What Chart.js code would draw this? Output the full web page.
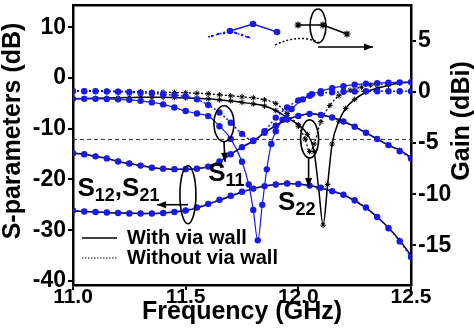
<!DOCTYPE html>
<html><head><meta charset="utf-8">
<script src="https://cdn.jsdelivr.net/npm/chart.js@4.4.1/dist/chart.umd.min.js"></script>
<style>html,body{margin:0;padding:0;background:#fff}#wrap{width:474px;height:334px;position:relative}</style>
</head><body><div id="wrap"><canvas id="c" width="474" height="334"></canvas></div>
<script>
// ---- data ----
const freq = [11.00,11.05,11.10,11.15,11.20,11.25,11.30,11.35,11.40,11.45,11.50,11.55,11.60,11.65,11.70,11.75,11.80,11.85,11.90,11.95,12.00,12.05,12.10,12.15,12.20,12.25,12.30,12.35,12.40,12.45,12.50];
const s21With    = [-26.2,-26.3,-26.4,-26.5,-26.6,-26.6,-26.7,-26.7,-26.6,-26.4,-26.1,-25.6,-24.9,-24.1,-23.3,-22.5,-21.8,-21.3,-21.0,-20.8,-20.9,-21.2,-21.7,-22.3,-23.0,-24.2,-25.6,-27.4,-29.5,-32.0,-35.0];
const s21Without = [-26.1,-26.3,-26.4,-26.5,-26.6,-26.7,-26.7,-26.7,-26.6,-26.4,-26.1,-25.5,-24.8,-24.0,-23.2,-22.4,-21.8,-21.3,-21.0,-20.8,-20.9,-21.2,-21.6,-22.3,-23.0,-24.1,-25.5,-27.4,-29.6,-32.2,-35.3];
const s11Without = [-2.6,-2.6,-2.6,-2.65,-2.7,-2.8,-2.9,-3.0,-3.2,-3.4,-3.6,-4.2,-5.3,-6.8,-8.8,-11.0,-12.3,-10.5,-7.8,-5.8,-4.4,-3.5,-3.0,-2.8,-2.7,-2.65,-2.6,-2.6,-2.6,-2.6,-2.6];
const gainWith    = [-6.0,-6.1,-6.3,-6.5,-6.8,-7.0,-7.2,-7.4,-7.5,-7.55,-7.55,-7.5,-7.3,-6.8,-6.1,-5.4,-4.8,-4.0,-3.3,-2.7,-2.35,-2.15,-2.25,-2.5,-2.9,-3.4,-4.0,-4.6,-5.2,-5.7,-6.4];
const gainWithout = [-6.0,-6.1,-6.3,-6.5,-6.8,-7.0,-7.2,-7.4,-7.5,-7.55,-7.55,-7.5,-7.3,-6.8,-6.1,-5.4,-4.8,-4.0,-3.3,-2.7,-2.35,-2.15,-2.25,-2.5,-2.9,-3.4,-4.0,-4.6,-5.2,-5.8,-6.5];
const freqS11With = [11.00,11.05,11.10,11.15,11.20,11.25,11.30,11.35,11.40,11.45,11.50,11.55,11.60,11.65,11.70,11.75,11.78,11.80,11.82,11.84,11.86,11.88,11.90,11.93,11.97,12.02,12.06,12.10,12.15,12.20,12.25,12.30,12.35,12.40,12.45,12.50];
const s11With = [-4.1,-4.1,-4.1,-4.15,-4.2,-4.3,-4.5,-4.8,-5.2,-5.8,-6.5,-7.0,-7.5,-9.5,-12.0,-16.5,-21,-26,-32,-25,-18,-13,-10.5,-8.2,-6.1,-4.2,-3.2,-2.6,-2.0,-1.6,-1.3,-1.1,-1.0,-0.9,-0.85,-0.8];
const freqS22With = [11.00,11.05,11.10,11.15,11.20,11.25,11.30,11.35,11.40,11.45,11.50,11.55,11.60,11.65,11.70,11.75,11.80,11.85,11.90,11.95,12.00,12.04,12.07,12.09,12.11,12.13,12.15,12.18,12.21,12.25,12.30,12.35,12.40,12.45,12.50];
const s22With = [-4.1,-4.05,-4.0,-3.95,-3.9,-3.85,-3.8,-3.8,-3.8,-3.85,-3.9,-4.0,-4.1,-4.3,-4.5,-4.8,-5.1,-5.5,-6.4,-7.8,-9.2,-11.1,-14.5,-21.7,-29,-21,-13,-8.5,-6.0,-4.2,-2.8,-2.0,-1.4,-1.0,-0.8];
const freqS22Without = [11.00,11.05,11.10,11.15,11.20,11.25,11.30,11.35,11.40,11.45,11.50,11.55,11.60,11.65,11.70,11.75,11.80,11.85,11.90,11.95,12.00,12.03,12.05,12.07,12.10,12.14,12.18,12.23,12.28,12.32,12.40,12.45,12.50];
const s22Without = [-2.5,-2.5,-2.5,-2.55,-2.6,-2.65,-2.7,-2.75,-2.8,-2.85,-2.9,-3.0,-3.1,-3.3,-3.5,-3.7,-3.9,-4.3,-5.0,-7.0,-9.5,-12.0,-14.5,-13,-8.6,-5.4,-3.5,-2.4,-1.8,-1.4,-1.1,-0.9,-0.8];
const refLevel = -12.1;
const xTicks = [11.0,11.5,12.0,12.5];
const yLeftTicks = [-40,-30,-20,-10,0,10];
const yRightTicks = [-15,-10,-5,0,5];

function pts(xs, ys){ return xs.map((x,i)=>({x:x,y:ys[i]})); }
const BLUE = '#1a1ae6';
function blueDots(label, xs, ys, dash, axis){
  return {label, data:pts(xs,ys), yAxisID:axis||'y', borderColor:BLUE, backgroundColor:BLUE,
    borderWidth: dash?1.5:1.2, borderDash: dash?[2,2]:[], pointStyle:'circle', pointRadius:3.2,
    pointBorderWidth:0, cubicInterpolationMode:'monotone'};
}
function blackStars(label, xs, ys, dash, axis){
  return {label, data:pts(xs,ys), yAxisID:axis||'y', borderColor:'#000', backgroundColor:'#000',
    borderWidth: dash?1.3:1.5, borderDash: dash?[2,2]:[], pointStyle:'star', pointRadius:2.8,
    pointBorderWidth:1, cubicInterpolationMode:'monotone'};
}
const datasets = [
  blueDots('Gain without', freq, gainWithout, true, 'y2'),
  blackStars('Gain with', freq, gainWith, false, 'y2'),
  blueDots('S21 without', freq, s21Without, true),
  blackStars('S21 with', freq, s21With, false),
  blueDots('S11 with', freqS11With, s11With, false),
  blueDots('S11 without', freq, s11Without, true),
  blackStars('S22 with', freqS22With, s22With, false),
  blackStars('S22 without', freqS22Without, s22Without, true),
  {label:'ref', data:[{x:11.0,y:refLevel},{x:12.5,y:refLevel}], yAxisID:'y', borderColor:'#333',
   borderWidth:1, borderDash:[4,3], pointRadius:0}
];

const FONT = "'Liberation Sans', Arial, sans-serif";

const annot = {
  id:'annot',
  afterDatasetsDraw(chart){
    const c = chart.ctx, xs = chart.scales.x, ys = chart.scales.y;
    const X = v=>xs.getPixelForValue(v), Y = v=>ys.getPixelForValue(v);
    c.save();
    c.strokeStyle='#000'; c.fillStyle='#000'; c.lineWidth=1.6;
    function ell(fx,fy,rx,ry){ c.beginPath(); c.ellipse(X(fx),Y(fy),rx,ry,0,0,Math.PI*2); c.stroke(); }
    function arrow(x1,y1,x2,y2){
      c.beginPath(); c.moveTo(x1,y1); c.lineTo(x2,y2); c.stroke();
      const a=Math.atan2(y2-y1,x2-x1), L=9, W=3.5;
      c.beginPath(); c.moveTo(x2,y2);
      c.lineTo(x2-L*Math.cos(a)+W*Math.sin(a), y2-L*Math.sin(a)-W*Math.cos(a));
      c.lineTo(x2-L*Math.cos(a)-W*Math.sin(a), y2-L*Math.sin(a)+W*Math.cos(a));
      c.closePath(); c.fill();
    }
    function sLabel(x,y,parts){
      let cx=x;
      parts.forEach(p=>{
        c.font = p[1] ? "bold 18px "+FONT : "bold 26px "+FONT;
        c.textBaseline='alphabetic';
        c.fillText(p[0], cx, p[1]? y+5 : y);
        cx += c.measureText(p[0]).width;
      });
    }
    ell(11.67,-9.0,10,18);
    arrow(X(11.67),Y(-9.0)+18,X(11.67)+1,Y(-9.0)+38);
    sLabel(X(11.6),Y(-20.2),[['S'],['11',1]]);
    ell(12.05,-12.0,9,19);
    arrow(X(12.05)-1,Y(-12.0)+19,X(12.05)-1,Y(-12.0)+48);
    sLabel(X(11.91),Y(-26.0),[['S'],['22',1]]);
    ell(11.51,-23.0,8,29);
    arrow(X(11.51),Y(-23.0)+10,X(11.51)-31,Y(-23.0)+10);
    sLabel(X(11.02),Y(-23.0)+1,[['S'],['12',1],[','],['S'],['21',1]]);
    // top inset
    c.lineWidth=1.5;
    c.strokeStyle=BLUE; c.fillStyle=BLUE;
    c.setLineDash([2,2]);
    c.beginPath(); c.moveTo(208,37); c.lineTo(230,31); c.stroke();
    c.beginPath(); c.moveTo(230,31); c.lineTo(250,38); c.stroke();
    c.setLineDash([]);
    c.beginPath(); c.moveTo(230,31); c.lineTo(253,24); c.lineTo(277,32); c.stroke();
    [[230,31],[253,24],[277,32]].forEach(p=>{c.beginPath();c.arc(p[0],p[1],3.3,0,Math.PI*2);c.fill();});
    [[212,36],[218,34],[224,33],[236,33],[242,35],[248,37]].forEach(p=>{c.beginPath();c.arc(p[0],p[1],1.3,0,Math.PI*2);c.fill();});
    c.strokeStyle='#000'; c.fillStyle='#000';
    c.beginPath(); c.moveTo(298,25); c.lineTo(323,25); c.lineTo(347,34); c.stroke();
    c.setLineDash([2,2]);
    c.beginPath(); c.moveTo(275,45); c.quadraticCurveTo(300,33,320,43); c.stroke();
    c.setLineDash([]);
    function star(x,y,r){ c.beginPath(); for(let i=0;i<4;i++){const a=i*Math.PI/4; c.moveTo(x-r*Math.cos(a),y-r*Math.sin(a)); c.lineTo(x+r*Math.cos(a),y+r*Math.sin(a));} c.lineWidth=1.2; c.stroke(); }
    star(298,25,3.5); star(323,25,3.5); star(347,34,3.5);
    c.lineWidth=1.6;
    c.beginPath(); c.ellipse(318,26,8,17,0,0,Math.PI*2); c.stroke();
    arrow(318,47,373,47);
    // legend
    c.lineWidth=1.3;
    c.beginPath(); c.moveTo(82,238); c.lineTo(117,238); c.stroke();
    c.setLineDash([1.5,1.5]); c.lineWidth=1;
    c.beginPath(); c.moveTo(82,258); c.lineTo(117,258); c.stroke();
    c.setLineDash([]);
    c.font="bold 20px "+FONT; c.textBaseline='middle';
    c.fillText('With via wall',127,238);
    c.fillText('Without via wall',127,258);
    c.restore();
  },
  afterDraw(chart){
    const c = chart.ctx, a = chart.chartArea;
    c.save();
    c.fillStyle='#000'; c.font="bold 25px "+FONT; c.textAlign='center'; c.textBaseline='middle';
    c.translate(13, a.top+126); c.rotate(-Math.PI/2); c.fillText('S-parameters (dB)',0,0);
    c.restore();
    c.save();
    c.fillStyle='#000'; c.font="bold 25px "+FONT; c.textAlign='center'; c.textBaseline='middle';
    c.translate(462, a.top+116); c.rotate(-Math.PI/2); c.fillText('Gain (dBi)',0,0);
    c.restore();
  }
};

function noPadV(s){ s.paddingTop=0; s.paddingBottom=0; }
new Chart(document.getElementById('c'), {
  type:'line',
  data:{datasets},
  options:{
    responsive:false, animation:false, devicePixelRatio:1,
    layout:{padding:{top:2,left:0,right:0,bottom:0}},
    plugins:{legend:{display:false}, tooltip:{enabled:false}},
    scales:{
      x:{type:'linear', min:11.0, max:12.5, position:'bottom',
        afterBuildTicks:s=>{s.ticks=xTicks.map(v=>({value:v}));},
        afterFit:s=>{s.height=49; s.paddingLeft=0; s.paddingRight=0;},
        ticks:{color:'#000', font:{family:FONT,size:21,weight:'bold'}, padding:-5, callback:v=>v.toFixed(1), maxRotation:0},
        grid:{drawOnChartArea:false, drawTicks:true, tickLength:5, color:'#000', lineWidth:2},
        border:{display:true, color:'#000', width:2.5},
        title:{display:true, text:'Frequency (GHz)', color:'#000', font:{family:FONT,size:25,weight:'bold'}, padding:{top:0,bottom:7}}
      },
      xTop:{type:'linear', min:11.0, max:12.5, position:'top', display:true,
        afterFit:s=>{s.height=0; s.paddingLeft=0; s.paddingRight=0;},
        ticks:{display:false}, grid:{display:false, drawTicks:false},
        border:{display:true,color:'#000',width:2.5}},
      y:{type:'linear', min:-40.8, max:14.4, position:'left',
        afterBuildTicks:s=>{s.ticks=yLeftTicks.map(v=>({value:v}));},
        afterFit:s=>{s.width=73; noPadV(s);},
        ticks:{color:'#000', font:{family:FONT,size:23,weight:'bold'}, padding:2},
        grid:{drawOnChartArea:false, drawTicks:true, tickLength:5, color:'#000', lineWidth:2},
        border:{display:true, color:'#000', width:2.5},
        title:{display:false}
      },
      y2:{type:'linear', min:-18.86, max:8.48, position:'right',
        afterBuildTicks:s=>{s.ticks=yRightTicks.map(v=>({value:v}));},
        afterFit:s=>{s.width=63; noPadV(s);},
        ticks:{color:'#000', font:{family:FONT,size:23,weight:'bold'}, padding:2},
        grid:{drawOnChartArea:false, drawTicks:true, tickLength:5, color:'#000', lineWidth:2},
        border:{display:true, color:'#000', width:2.5},
        title:{display:false}
      }
    }
  },
  plugins:[annot]
});
</script></body></html>
